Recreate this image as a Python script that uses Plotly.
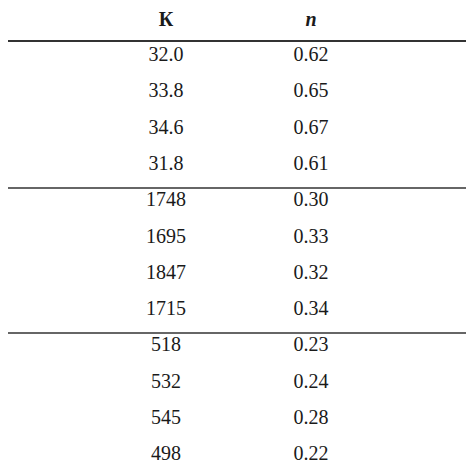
import plotly.graph_objects as go

samples = ["V1", "V2", "V3", "V4", "K1", "K2", "K3", "K4", "C1", "C2", "C3", "C4"]
k_vals = ["32.0", "33.8", "34.6", "31.8", "1748", "1695", "1847", "1715", "518", "532", "545", "498"]
n_vals = ["0.62", "0.65", "0.67", "0.61", "0.30", "0.33", "0.32", "0.34", "0.23", "0.24", "0.28", "0.22"]
r2_vals = ["99.28", "99.57", "99.46", "99,34", "98.55", "99.17", "98.76", "98.97", "99.79", "99.68", "99.47", "99.86"]
headers = ["К", "<i>n</i>", "R<sup>2</sup>"]

row_y = [48 + 36.3 * i for i in range(len(samples))]
font = dict(family="Liberation Serif", size=20, color="#1a1a1a")

fig = go.Figure()
fig.add_trace(go.Scatter(x=[-5] * len(samples), y=row_y, text=["<b>%s</b>" % s for s in samples],
                         mode="text", textposition="middle right", textfont=font, cliponaxis=False))
fig.add_trace(go.Scatter(x=[158] * len(samples), y=row_y, text=k_vals,
                         mode="text", textposition="middle center", textfont=font, cliponaxis=False))
fig.add_trace(go.Scatter(x=[303] * len(samples), y=row_y, text=n_vals,
                         mode="text", textposition="middle center", textfont=font, cliponaxis=False))
fig.add_trace(go.Scatter(x=[480] * len(samples), y=row_y, text=r2_vals,
                         mode="text", textposition="middle left", textfont=font, cliponaxis=False))
fig.add_trace(go.Scatter(x=[158, 303, 480], y=[13, 13, 13], text=["<b>%s</b>" % h for h in headers],
                         mode="text", textposition=["middle center", "middle center", "middle left"],
                         textfont=font, cliponaxis=False))

# rules under header and between groups
for y, w in [(33, 2.2), (180, 1.6), (325, 1.6)]:
    fig.add_shape(type="line", x0=0, x1=474, y0=y, y1=y, line=dict(color="#333", width=w))

fig.update_layout(width=474, height=462, margin=dict(l=0, r=0, t=0, b=0),
                  plot_bgcolor="white", paper_bgcolor="white", showlegend=False)
fig.update_xaxes(range=[0, 474], visible=False)
fig.update_yaxes(range=[462, 0], visible=False)
fig.write_html("out.html")
